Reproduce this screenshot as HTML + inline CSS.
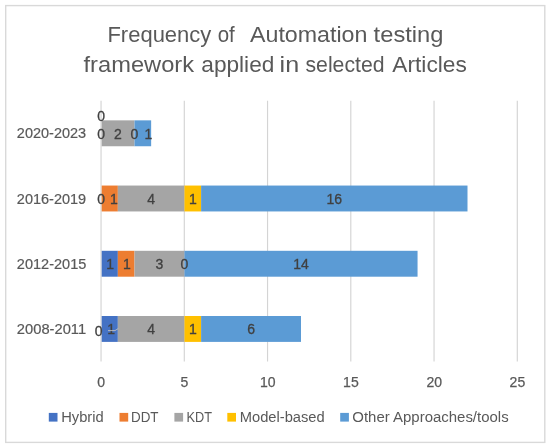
<!DOCTYPE html>
<html><head><meta charset="utf-8"><title>Chart</title>
<style>
html,body{margin:0;padding:0;background:#fff;}
svg{display:block;font-family:"Liberation Sans",sans-serif;}
text{fill:#595959;}
.a{stroke:#595959;stroke-width:0.25px;}
.c{stroke:#595959;stroke-width:0.2px;}
.d{fill:#404040;stroke:#404040;stroke-width:0.3px;}
</style></head><body>
<svg width="550" height="448" viewBox="0 0 550 448">
<rect x="0" y="0" width="550" height="448" fill="#fff"/>
<rect x="5.7" y="5.6" width="539.1" height="436.8" fill="#fff" stroke="#D9D9D9" stroke-width="1.4"/>
<text class="t" x="107.44" y="41.8" font-size="21.6" textLength="103.86" lengthAdjust="spacingAndGlyphs">Frequency</text>
<text class="t" x="217.68" y="41.8" font-size="21.6" textLength="17.07" lengthAdjust="spacingAndGlyphs">of</text>
<text class="t" x="250.0" y="41.8" font-size="21.6" textLength="117.42" lengthAdjust="spacingAndGlyphs">Automation</text>
<text class="t" x="373.64" y="41.8" font-size="21.6" textLength="69.8" lengthAdjust="spacingAndGlyphs">testing</text>
<text class="t" x="83.56" y="72" font-size="21.6" textLength="110.52" lengthAdjust="spacingAndGlyphs">framework</text>
<text class="t" x="201.29" y="72" font-size="21.6" textLength="73.09" lengthAdjust="spacingAndGlyphs">applied</text>
<text class="t" x="279.57" y="72" font-size="21.6" textLength="19.57" lengthAdjust="spacingAndGlyphs">in</text>
<text class="t" x="305.47" y="72" font-size="21.6" textLength="79.03" lengthAdjust="spacingAndGlyphs">selected</text>
<text class="t" x="392.3" y="72" font-size="21.6" textLength="74.5" lengthAdjust="spacingAndGlyphs">Articles</text>
<line x1="101.05" y1="100.8" x2="101.05" y2="361.5" stroke="#D4D4D4" stroke-width="1.15"/>
<line x1="184.30" y1="100.8" x2="184.30" y2="361.5" stroke="#D4D4D4" stroke-width="1.15"/>
<line x1="267.55" y1="100.8" x2="267.55" y2="361.5" stroke="#D4D4D4" stroke-width="1.15"/>
<line x1="350.80" y1="100.8" x2="350.80" y2="361.5" stroke="#D4D4D4" stroke-width="1.15"/>
<line x1="434.05" y1="100.8" x2="434.05" y2="361.5" stroke="#D4D4D4" stroke-width="1.15"/>
<line x1="517.30" y1="100.8" x2="517.30" y2="361.5" stroke="#D4D4D4" stroke-width="1.15"/>
<rect x="101.70" y="120.35" width="32.80" height="25.90" fill="#A5A5A5"/>
<rect x="134.50" y="120.35" width="16.65" height="25.90" fill="#5B9BD5"/>
<text class="c" x="16.88" y="138.4" font-size="14" textLength="69.22" lengthAdjust="spacingAndGlyphs">2020-2023</text>
<rect x="101.70" y="185.55" width="16.15" height="25.90" fill="#ED7D31"/>
<rect x="117.85" y="185.55" width="66.60" height="25.90" fill="#A5A5A5"/>
<rect x="184.45" y="185.55" width="16.65" height="25.90" fill="#FFC000"/>
<rect x="201.10" y="185.55" width="266.40" height="25.90" fill="#5B9BD5"/>
<text class="c" x="16.88" y="203.6" font-size="14" textLength="69.29" lengthAdjust="spacingAndGlyphs">2016-2019</text>
<rect x="101.70" y="250.80" width="16.15" height="25.90" fill="#4472C4"/>
<rect x="117.85" y="250.80" width="16.65" height="25.90" fill="#ED7D31"/>
<rect x="134.50" y="250.80" width="49.95" height="25.90" fill="#A5A5A5"/>
<rect x="184.45" y="250.80" width="233.10" height="25.90" fill="#5B9BD5"/>
<text class="c" x="16.87" y="268.9" font-size="14" textLength="69.42" lengthAdjust="spacingAndGlyphs">2012-2015</text>
<rect x="101.70" y="316.00" width="16.15" height="25.90" fill="#4472C4"/>
<rect x="117.85" y="316.00" width="66.60" height="25.90" fill="#A5A5A5"/>
<rect x="184.45" y="316.00" width="16.65" height="25.90" fill="#FFC000"/>
<rect x="201.10" y="316.00" width="99.90" height="25.90" fill="#5B9BD5"/>
<text class="c" x="16.86" y="334.1" font-size="14" textLength="69.21" lengthAdjust="spacingAndGlyphs">2008-2011</text>
<text x="101.2" y="386.7" font-size="14" class="a" text-anchor="middle">0</text>
<text x="184.4" y="386.7" font-size="14" class="a" text-anchor="middle">5</text>
<text x="267.7" y="386.7" font-size="14" class="a" text-anchor="middle">10</text>
<text x="350.9" y="386.7" font-size="14" class="a" text-anchor="middle">15</text>
<text x="434.2" y="386.7" font-size="14" class="a" text-anchor="middle">20</text>
<text x="517.4" y="386.7" font-size="14" class="a" text-anchor="middle">25</text>
<text class="d" x="101.2" y="121.2" font-size="14" text-anchor="middle">0</text>
<text class="d" x="101.2" y="138.6" font-size="14" text-anchor="middle">0</text>
<text class="d" x="117.8" y="138.6" font-size="14" text-anchor="middle">2</text>
<text class="d" x="134.5" y="138.6" font-size="14" text-anchor="middle">0</text>
<text class="d" x="148.3" y="138.6" font-size="14" text-anchor="middle">1</text>
<text class="d" x="101.2" y="203.7" font-size="14" text-anchor="middle">0</text>
<text class="d" x="114.0" y="203.7" font-size="14" text-anchor="middle">1</text>
<text class="d" x="151.2" y="203.7" font-size="14" text-anchor="middle">4</text>
<text class="d" x="192.8" y="203.7" font-size="14" text-anchor="middle">1</text>
<text class="d" x="334.3" y="203.7" font-size="14" text-anchor="middle">16</text>
<text class="d" x="110.2" y="269.0" font-size="14" text-anchor="middle">1</text>
<text class="d" x="126.9" y="269.0" font-size="14" text-anchor="middle">1</text>
<text class="d" x="159.5" y="269.0" font-size="14" text-anchor="middle">3</text>
<text class="d" x="184.4" y="269.0" font-size="14" text-anchor="middle">0</text>
<text class="d" x="301.0" y="269.0" font-size="14" text-anchor="middle">14</text>
<text class="d" x="98.6" y="336.4" font-size="14" text-anchor="middle">0</text>
<text class="d" x="111.1" y="334.2" font-size="14" text-anchor="middle">1</text>
<text class="d" x="151.2" y="333.8" font-size="14" text-anchor="middle">4</text>
<text class="d" x="192.8" y="333.8" font-size="14" text-anchor="middle">1</text>
<text class="d" x="251.1" y="333.8" font-size="14" text-anchor="middle">6</text>
<polyline points="108,330.6 115,330.6 118.3,328.5" fill="none" stroke="#BFBFBF" stroke-width="0.9"/>
<rect x="48.8" y="412.9" width="8.7" height="8.7" fill="#4472C4"/>
<text class="l" x="61.22" y="421.6" font-size="13.8" textLength="42.47" lengthAdjust="spacingAndGlyphs">Hybrid</text>
<rect x="119.5" y="412.9" width="8.7" height="8.7" fill="#ED7D31"/>
<text class="l" x="131.03" y="421.6" font-size="13.8" textLength="27.55" lengthAdjust="spacingAndGlyphs">DDT</text>
<rect x="174.4" y="412.9" width="8.7" height="8.7" fill="#A5A5A5"/>
<text class="l" x="186.48" y="421.6" font-size="13.8" textLength="25.48" lengthAdjust="spacingAndGlyphs">KDT</text>
<rect x="227.3" y="412.9" width="8.7" height="8.7" fill="#FFC000"/>
<text class="l" x="239.72" y="421.6" font-size="13.8" textLength="84.97" lengthAdjust="spacingAndGlyphs">Model-based</text>
<rect x="340.2" y="412.9" width="8.7" height="8.7" fill="#5B9BD5"/>
<text class="l" x="352.33" y="421.6" font-size="13.8" textLength="156.29" lengthAdjust="spacingAndGlyphs">Other Approaches/tools</text>
</svg></body></html>
